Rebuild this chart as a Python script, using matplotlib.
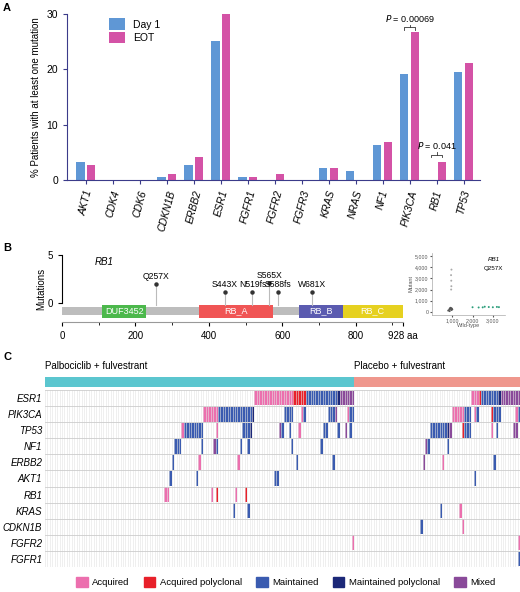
import matplotlib
matplotlib.use("Agg")
import matplotlib.pyplot as plt
from matplotlib.patches import Rectangle
import numpy as np

plt.rcParams['font.family'] = ['Liberation Sans', 'DejaVu Sans']

# ---------- Panel A data ----------
genes_a = ["AKT1","CDK4","CDK6","CDKN1B","ERBB2","ESR1","FGFR1","FGFR2","FGFR3","KRAS","NRAS","NF1","PIK3CA","RB1","TP53"]
day1 = [3.2,0,0,0.6,2.7,25.2,0.6,0,0,2.2,1.6,6.3,19.1,0,19.6]
eot  = [2.7,0,0,1.1,4.2,30.0,0.6,1.1,0,2.2,0,6.8,26.8,3.2,21.1]

# ---------- Panel B data ----------
domains = [("DUF3452",110,230,"#4cb84c"),("RB_A",373,575,"#f05555"),
           ("RB_B",645,765,"#5b5bb0"),("RB_C",765,928,"#e6d120")]
mut_names = ["Q257X","S443X","N519fs","S565X","S588fs","W681X"]
mut_pos = [257,443,519,565,588,681]
mut_cnt = [2,1.1,1.1,2.1,1.1,1.1]
inset_wt = [800,850,880,900,920,950,980,1000,870,930,960,940,950,955,945,2000,2300,2600,2800,3000,3200,3300,2500]
inset_mut = [100,200,300,250,350,150,280,200,50,320,3800,3300,2800,2300,2000,400,380,450,420,400,430,410,390]
inset_col = ["#555555"]*10+["#aaaaaa"]*5+["#2a9d7a"]*8

# ---------- Panel C data ----------
genes_c = ["ESR1","PIK3CA","TP53","NF1","ERBB2","AKT1","RB1","KRAS","CDKN1B","FGFR2","FGFR1"]
n_palbo, n_plac = 127, 68
cats = ["Acquired","Acquired polyclonal","Maintained","Maintained polyclonal","Mixed"]
catcol = {"Acquired":"#ec6fae","Acquired polyclonal":"#e8202a","Maintained":"#3a5bb0",
          "Maintained polyclonal":"#1c2878","Mixed":"#8a4a9a"}
A,R,M,N,X = cats
segs = {
 "ESR1":[(A,86,101),(R,102,106),(M,107,119),(N,120,120),(X,121,126),
         (A,175,177),(R,178,178),(M,179,185),(N,186,186),(X,187,194)],
 "PIK3CA":[(A,65,70),(M,71,84),(N,85,85),(M,98,101),(A,105,105),(M,106,106),(M,116,118),(X,119,119),
           (A,124,124),(M,125,126),(A,167,171),(M,172,174),(A,176,176),(M,177,177),(R,183,183),
           (M,184,186),(A,193,193),(M,194,194)],
 "TP53":[(A,56,56),(M,57,64),(A,70,70),(M,81,83),(N,84,84),(X,96,96),(M,97,97),(M,100,100),(A,104,104),
         (M,114,115),(M,120,120),(X,123,123),(M,125,125),(M,158,164),(N,165,165),(X,166,166),(R,171,171),
         (M,172,174),(A,183,183),(M,185,185),(X,192,193)],
 "NF1":[(M,53,55),(M,64,64),(X,69,69),(M,70,70),(M,80,80),(M,83,83),(M,101,101),(M,113,113),
        (X,156,156),(M,157,157),(M,165,165)],
 "ERBB2":[(M,52,52),(A,63,63),(A,79,79),(M,103,103),(M,118,118),(X,155,155),(A,163,163),(M,184,184)],
 "AKT1":[(M,51,51),(M,62,62),(M,94,95),(M,176,176)],
 "RB1":[(A,49,50),(A,68,68),(R,70,70),(A,78,78),(R,82,82)],
 "KRAS":[(M,77,77),(M,83,83),(M,162,162),(A,170,170)],
 "CDKN1B":[(M,154,154),(A,171,171)],
 "FGFR2":[(A,126,126),(A,194,194)],
 "FGFR1":[(M,194,194)],
}

W, H = 520, 592
fig = plt.figure(figsize=(W/100, H/100), dpi=100)
def ax_px(l, t, w, h):
    return fig.add_axes([l/W, 1-(t+h)/H, w/W, h/H])

spine = "#3b3b8a"
# ---------- Panel A ----------
ax = ax_px(67, 14, 413, 166)
x = np.arange(len(genes_a))
bw = 0.3
ax.bar(x-0.2, day1, bw, color="#5f97d5", label="Day 1")
ax.bar(x+0.2, eot, bw, color="#d452a6", label="EOT")
ax.set_xlim(-0.7, len(genes_a)-0.4)
ax.set_ylim(0, 30)
ax.set_yticks([0,10,20,30])
ax.set_xticks(x)
ax.set_xticklabels(genes_a, rotation=75, style="italic", fontsize=7.5)
ax.tick_params(labelsize=7.5, length=3, color=spine)
for s in ["top","right"]:
    ax.spines[s].set_visible(False)
for s in ["left","bottom"]:
    ax.spines[s].set_color(spine)
ax.set_ylabel("% Patients with at least one mutation", fontsize=7)
ax.legend(loc="upper left", bbox_to_anchor=(0.08, 1.03), frameon=False, fontsize=7.5,
          handlelength=1.5, handleheight=1.3, labelspacing=0.2)
def bracket(i, y, txt):
    x0, x1 = i-0.2, i+0.2
    ax.plot([x0,x0,x1,x1],[y-0.5,y,y,y-0.5], color="#333", lw=0.6)
    ax.plot([i,i],[y,y+0.4], color="#333", lw=0.6)
    ax.text(i, y+0.6, txt, ha="center", va="bottom", fontsize=6.5)
bracket(12, 27.6, "$P$ = 0.00069")
bracket(13, 4.6, "$P$ = 0.041")
fig.text(3/W, 1-8/H, "A", fontsize=8, fontweight="bold", va="center")

# ---------- Panel B ----------
bx = ax_px(62, 255, 345, 67)
bx.add_patch(Rectangle((0,-1.3), 928, 0.9, color="#bdbdbd", lw=0))
for name, s, e, c in domains:
    bx.add_patch(Rectangle((s,-1.55), e-s, 1.35, color=c, lw=0))
    bx.text((s+e)/2, -0.87, name, ha="center", va="center", fontsize=6.5, color="white")
for n, p, c in zip(mut_names, mut_pos, mut_cnt):
    bx.plot([p,p],[-0.2,c], color="#bbbbbb", lw=0.8)
    bx.plot(p, c, "o", color="#333", ms=2.2)
    bx.text(p, c+0.3, n, ha="center", va="bottom", fontsize=6.2)
bx.set_xlim(0, 940)
bx.set_ylim(-2.0, 5)
bx.set_yticks([0,5])
bx.set_xticks([0,200,400,600,800,928])
bx.set_xticklabels(["0","200","400","600","800","928 aa"])
bx.set_xticks(range(100,901,100), minor=True)
for s in ["top","right"]:
    bx.spines[s].set_visible(False)
bx.spines["bottom"].set_bounds(0, 928)
bx.spines["bottom"].set_color("#999")
bx.spines["left"].set_bounds(0, 5)
bx.tick_params(labelsize=7, length=3)
bx.tick_params(which="minor", length=2)
bx.set_ylabel("Mutations", fontsize=7, labelpad=1)
bx.text(90, 4.0, "RB1", style="italic", fontsize=7)
fig.text(3/W, 1-248/H, "B", fontsize=8, fontweight="bold", va="center")

ix = ax_px(432, 253, 73, 62)
ix.scatter(inset_wt, inset_mut, s=2, c=inset_col, lw=0)
ix.set_xlim(0, 3600); ix.set_ylim(-300, 5300)
ix.set_xticks([1000,2000,3000]); ix.set_xticklabels(["1,000","2,000","3,000"])
ix.set_yticks([0,1000,2000,3000,4000,5000])
ix.set_yticklabels(["0","1,000","2,000","3,000","4,000","5,000"])
ix.tick_params(labelsize=3.8, length=1.5, pad=1, colors="#555")
for s in ["top","right"]:
    ix.spines[s].set_visible(False)
for s in ["left","bottom"]:
    ix.spines[s].set_color("#aaa"); ix.spines[s].set_linewidth(0.5)
ix.set_xlabel("Wild-type", fontsize=4, labelpad=0, color="#555")
ix.set_ylabel("Mutant", fontsize=4, labelpad=1, color="#555")
ix.text(3350, 4900, "RB1", style="italic", fontsize=4.5, ha="right", va="top")
ix.text(3500, 4100, "Q257X", fontsize=4.5, ha="right", va="top")

# ---------- Panel C ----------
ntot = n_palbo + n_plac
fig.text(3/W, 1-357/H, "C", fontsize=8, fontweight="bold", va="center")
tx = ax_px(45, 377, 475, 10)
tx.add_patch(Rectangle((0,0), n_palbo, 1, color="#5bc6cf", lw=0))
tx.add_patch(Rectangle((n_palbo,0), n_plac, 1, color="#ef978d", lw=0))
tx.set_xlim(0, ntot); tx.set_ylim(0,1); tx.axis("off")
fig.text(45/W, 1-366/H, "Palbociclib + fulvestrant", fontsize=7, va="center")
fig.text(354/W, 1-366/H, "Placebo + fulvestrant", fontsize=7, va="center")

cx = ax_px(45, 390, 475, 177)
ng = len(genes_c)
cx.set_xlim(0, ntot); cx.set_ylim(ng, 0)
for i in range(ntot+1):
    cx.axvline(i, color="#e4e4e4", lw=0.4)
for j in range(ng+1):
    cx.axhline(j, color="#cccccc", lw=0.6)
for j, g in enumerate(genes_c):
    for cat, s, e in segs[g]:
        cx.add_patch(Rectangle((s, j+0.04), e-s+1, 0.92, color=catcol[cat], lw=0))
cx.set_yticks(np.arange(ng)+0.5)
cx.set_yticklabels(genes_c, style="italic", fontsize=7)
cx.set_xticks([])
cx.tick_params(length=0, pad=2)
for s in cx.spines.values():
    s.set_visible(False)
handles = [Rectangle((0,0),1,1,color=catcol[c]) for c in cats]
fig.legend(handles, cats, loc="center", bbox_to_anchor=(0.55, 1-582/H), ncol=5, frameon=False,
           fontsize=6.8, handlelength=1.2, handleheight=1.2, columnspacing=1.5, handletextpad=0.5)

fig.savefig("out.png", dpi=100)
